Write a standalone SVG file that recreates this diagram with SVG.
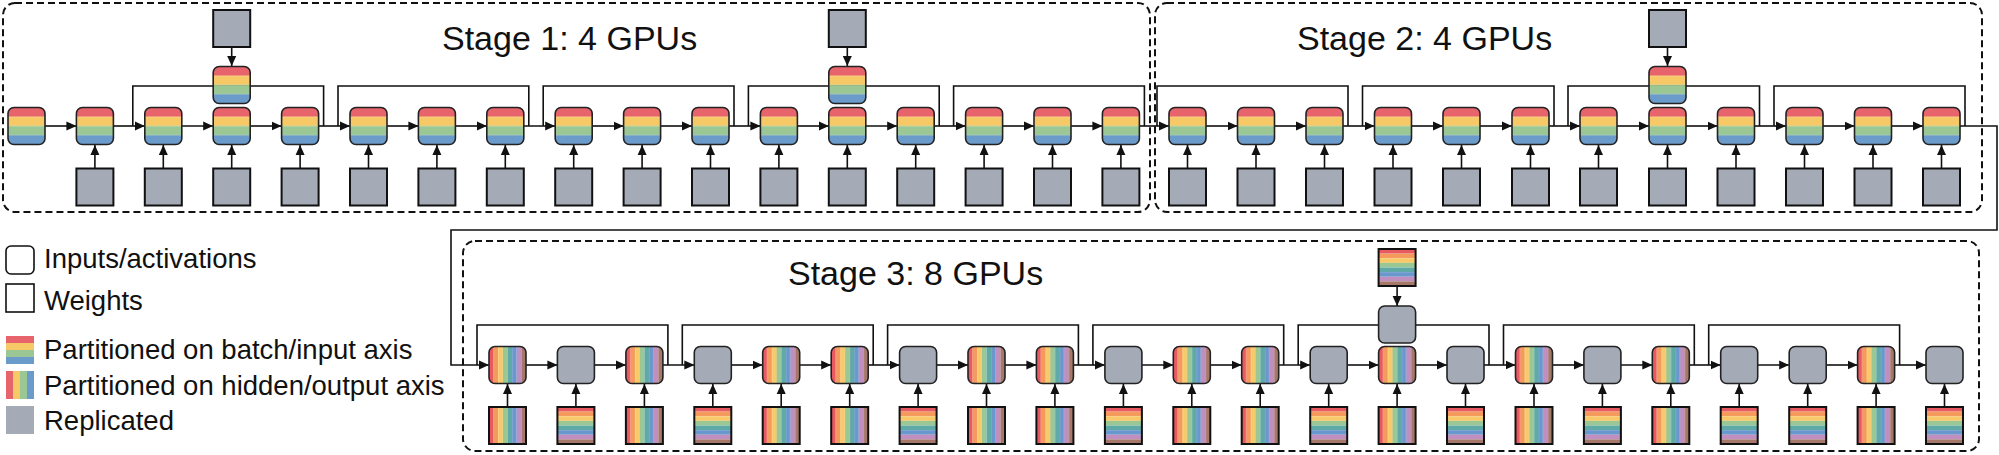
<svg xmlns="http://www.w3.org/2000/svg" width="1999" height="455" viewBox="0 0 1999 455">
<style>
.n{stroke:#222;stroke-width:1.6}
.w{stroke:#111;stroke-width:2}
.h4{fill:url(#h4)}.v8{fill:url(#v8)}.h8{fill:url(#h8)}.g{fill:#a5abb6}
.st{fill:none;stroke:#111;stroke-width:2;stroke-dasharray:7 4}
.c path{fill:none;stroke:#111;stroke-width:1.6}
.a{marker-end:url(#ar)}
text{font-family:"Liberation Sans",Arial,sans-serif;fill:#111}
.t{font-size:34px}.l{font-size:27.5px}
</style>
<defs>
<marker id="ar" viewBox="0 0 10 10" refX="10" refY="5" markerWidth="10" markerHeight="10" markerUnits="userSpaceOnUse" orient="auto"><path d="M0,0.5 L10,5 L0,9.5z" fill="#111"/></marker>
<pattern id="h4" width="1" height="1" patternUnits="objectBoundingBox" patternContentUnits="objectBoundingBox">
<rect width="1" height="0.25" fill="#e8646c"/><rect y="0.25" width="1" height="0.25" fill="#f7c866"/><rect y="0.5" width="1" height="0.25" fill="#9ac794"/><rect y="0.75" width="1" height="0.25" fill="#6b9bcb"/></pattern>
<pattern id="v4" width="1" height="1" patternUnits="objectBoundingBox" patternContentUnits="objectBoundingBox">
<rect width="0.25" height="1" fill="#e8646c"/><rect x="0.25" width="0.25" height="1" fill="#f7c866"/><rect x="0.5" width="0.25" height="1" fill="#9ac794"/><rect x="0.75" width="0.25" height="1" fill="#6b9bcb"/></pattern>
<pattern id="v8" width="1" height="1" patternUnits="objectBoundingBox" patternContentUnits="objectBoundingBox">
<rect width="0.125" height="1" fill="#e85a62"/><rect x="0.125" width="0.125" height="1" fill="#f49a5c"/><rect x="0.25" width="0.125" height="1" fill="#f8c96a"/><rect x="0.375" width="0.125" height="1" fill="#9bc795"/><rect x="0.5" width="0.125" height="1" fill="#5fa9a6"/><rect x="0.625" width="0.125" height="1" fill="#6a98cc"/><rect x="0.75" width="0.125" height="1" fill="#c08fc0"/><rect x="0.875" width="0.125" height="1" fill="#a5786a"/></pattern>
<pattern id="h8" width="1" height="1" patternUnits="objectBoundingBox" patternContentUnits="objectBoundingBox">
<rect width="1" height="0.125" fill="#e85a62"/><rect y="0.125" width="1" height="0.125" fill="#f49a5c"/><rect y="0.25" width="1" height="0.125" fill="#f8c96a"/><rect y="0.375" width="1" height="0.125" fill="#9bc795"/><rect y="0.5" width="1" height="0.125" fill="#5fa9a6"/><rect y="0.625" width="1" height="0.125" fill="#6a98cc"/><rect y="0.75" width="1" height="0.125" fill="#c08fc0"/><rect y="0.875" width="1" height="0.125" fill="#a5786a"/></pattern>
</defs>
<rect width="1999" height="455" fill="#fff"/>

<g id="stages">
<rect class="st" x="3" y="3" width="1147" height="209" rx="12"/>
<rect class="st" x="1155" y="3" width="827" height="209" rx="12"/>
<rect class="st" x="463" y="241" width="1516" height="210" rx="12"/>
<text class="t" x="442" y="50">Stage 1: 4 GPUs</text>
<text class="t" x="1297" y="50">Stage 2: 4 GPUs</text>
<text class="t" x="788" y="285">Stage 3: 8 GPUs</text>
</g>

<g id="legend" class="l">
<rect x="6" y="246" width="28" height="28" rx="5" fill="#fff" stroke="#111" stroke-width="1.6"/>
<text x="44" y="268">Inputs/activations</text>
<rect x="6" y="284" width="28" height="28" fill="#fff" stroke="#111" stroke-width="1.6"/>
<text x="44" y="310">Weights</text>
<rect x="6" y="336" width="28" height="28" fill="url(#h4)"/>
<text x="44" y="359">Partitioned on batch/input axis</text>
<rect x="6" y="371" width="28" height="28" fill="url(#v4)"/>
<text x="44" y="395">Partitioned on hidden/output axis</text>
<rect x="6" y="406" width="28" height="28" fill="#a5abb6"/>
<text x="44" y="430">Replicated</text>
</g>

<g id="connectors" class="c">
<path d="M132.8 126V86H323.6V126"/><path d="M338 126V86H528.8V126"/><path d="M543.2 126V86H734V126"/><path d="M748.4 126V86H939.2V126"/><path d="M953.6 126V86H1144.4V126"/>
<path d="M1157 126V86H1348V126"/><path d="M1362.5 126V86H1554V126"/><path d="M1568 126V86H1759.5V126"/><path d="M1774 126V86H1965V126"/>
<path d="M477 365V325H667.9V365"/><path d="M682.3 365V325H873.2V365"/><path d="M887.6 365V325H1078.4V365"/><path d="M1092.9 365V325H1283.7V365"/><path d="M1298.2 365V325H1489V365"/><path d="M1503.5 365V325H1694.3V365"/><path d="M1708.7 365V325H1899.6V365"/>
<path class="a" d="M45 126H76.4"/><path class="a" d="M113.4 126H144.8"/><path class="a" d="M181.8 126H213.2"/><path class="a" d="M250.2 126H281.6"/><path class="a" d="M318.6 126H350"/><path class="a" d="M387 126H418.4"/><path class="a" d="M455.4 126H486.8"/><path class="a" d="M523.8 126H555.2"/><path class="a" d="M592.2 126H623.6"/><path class="a" d="M660.6 126H692"/><path class="a" d="M729 126H760.4"/><path class="a" d="M797.4 126H828.8"/><path class="a" d="M865.8 126H897.2"/><path class="a" d="M934.2 126H965.6"/><path class="a" d="M1002.6 126H1034"/><path class="a" d="M1071 126H1102.4"/><path class="a" d="M1139.4 126H1169"/>
<path class="a" d="M1206 126H1237.5"/><path class="a" d="M1274.5 126H1306"/><path class="a" d="M1343 126H1374.5"/><path class="a" d="M1411.5 126H1443"/><path class="a" d="M1480 126H1512"/><path class="a" d="M1549 126H1580"/><path class="a" d="M1617 126H1649"/><path class="a" d="M1686 126H1717.5"/><path class="a" d="M1754.5 126H1786"/><path class="a" d="M1823 126H1854.5"/><path class="a" d="M1891.5 126H1923"/>
<path class="a" d="M1960 126H1997V230H451V365H489"/>
<path class="a" d="M526 365H557.4"/><path class="a" d="M594.4 365H625.9"/><path class="a" d="M662.9 365H694.3"/><path class="a" d="M731.3 365H762.7"/><path class="a" d="M799.7 365H831.2"/><path class="a" d="M868.2 365H899.6"/><path class="a" d="M936.6 365H968"/><path class="a" d="M1005 365H1036.4"/><path class="a" d="M1073.4 365H1104.9"/><path class="a" d="M1141.9 365H1173.3"/><path class="a" d="M1210.3 365H1241.7"/><path class="a" d="M1278.7 365H1310.2"/><path class="a" d="M1347.2 365H1378.6"/><path class="a" d="M1415.6 365H1447"/><path class="a" d="M1484 365H1515.5"/><path class="a" d="M1552.5 365H1583.9"/><path class="a" d="M1620.9 365H1652.3"/><path class="a" d="M1689.3 365H1720.7"/><path class="a" d="M1757.7 365H1789.2"/><path class="a" d="M1826.2 365H1857.6"/><path class="a" d="M1894.6 365H1926"/>
<path class="a" d="M94.9 168V145"/><path class="a" d="M163.3 168V145"/><path class="a" d="M231.7 168V145"/><path class="a" d="M300.1 168V145"/><path class="a" d="M368.5 168V145"/><path class="a" d="M436.9 168V145"/><path class="a" d="M505.3 168V145"/><path class="a" d="M573.7 168V145"/><path class="a" d="M642.1 168V145"/><path class="a" d="M710.5 168V145"/><path class="a" d="M778.9 168V145"/><path class="a" d="M847.3 168V145"/><path class="a" d="M915.7 168V145"/><path class="a" d="M984.1 168V145"/><path class="a" d="M1052.5 168V145"/><path class="a" d="M1120.9 168V145"/>
<path class="a" d="M1187.5 168V145"/><path class="a" d="M1256 168V145"/><path class="a" d="M1324.5 168V145"/><path class="a" d="M1393 168V145"/><path class="a" d="M1461.5 168V145"/><path class="a" d="M1530.5 168V145"/><path class="a" d="M1598.5 168V145"/><path class="a" d="M1667.5 168V145"/><path class="a" d="M1736 168V145"/><path class="a" d="M1804.5 168V145"/><path class="a" d="M1873 168V145"/><path class="a" d="M1941.5 168V145"/>
<path class="a" d="M231.7 47V66"/><path class="a" d="M847.3 47V66"/><path class="a" d="M1667.5 47V66"/>
<path class="a" d="M507.5 407V384"/><path class="a" d="M575.9 407V384"/><path class="a" d="M644.4 407V384"/><path class="a" d="M712.8 407V384"/><path class="a" d="M781.2 407V384"/><path class="a" d="M849.7 407V384"/><path class="a" d="M918.1 407V384"/><path class="a" d="M986.5 407V384"/><path class="a" d="M1054.9 407V384"/><path class="a" d="M1123.4 407V384"/><path class="a" d="M1191.8 407V384"/><path class="a" d="M1260.2 407V384"/><path class="a" d="M1328.7 407V384"/><path class="a" d="M1397.1 407V384"/><path class="a" d="M1465.5 407V384"/><path class="a" d="M1534 407V384"/><path class="a" d="M1602.4 407V384"/><path class="a" d="M1670.8 407V384"/><path class="a" d="M1739.2 407V384"/><path class="a" d="M1807.7 407V384"/><path class="a" d="M1876.1 407V384"/><path class="a" d="M1944.5 407V384"/>
<path class="a" d="M1397.1 286V306"/>
</g>

<g id="stage1">
<g id="s1n0"><rect class="n h4" x="8" y="107.5" width="37" height="37" rx="6"/></g>
<g id="s1n1"><rect class="n h4" x="76.4" y="107.5" width="37" height="37" rx="6"/><rect class="w g" x="76.4" y="168.5" width="37" height="37"/></g>
<g id="s1n2"><rect class="n h4" x="144.8" y="107.5" width="37" height="37" rx="6"/><rect class="w g" x="144.8" y="168.5" width="37" height="37"/></g>
<g id="s1n3"><rect class="n h4" x="213.2" y="107.5" width="37" height="37" rx="6"/><rect class="w g" x="213.2" y="168.5" width="37" height="37"/><rect class="n h4" x="213.2" y="66.5" width="37" height="37" rx="6"/><rect class="w g" x="213.2" y="10" width="37" height="37"/></g>
<g id="s1n4"><rect class="n h4" x="281.6" y="107.5" width="37" height="37" rx="6"/><rect class="w g" x="281.6" y="168.5" width="37" height="37"/></g>
<g id="s1n5"><rect class="n h4" x="350" y="107.5" width="37" height="37" rx="6"/><rect class="w g" x="350" y="168.5" width="37" height="37"/></g>
<g id="s1n6"><rect class="n h4" x="418.4" y="107.5" width="37" height="37" rx="6"/><rect class="w g" x="418.4" y="168.5" width="37" height="37"/></g>
<g id="s1n7"><rect class="n h4" x="486.8" y="107.5" width="37" height="37" rx="6"/><rect class="w g" x="486.8" y="168.5" width="37" height="37"/></g>
<g id="s1n8"><rect class="n h4" x="555.2" y="107.5" width="37" height="37" rx="6"/><rect class="w g" x="555.2" y="168.5" width="37" height="37"/></g>
<g id="s1n9"><rect class="n h4" x="623.6" y="107.5" width="37" height="37" rx="6"/><rect class="w g" x="623.6" y="168.5" width="37" height="37"/></g>
<g id="s1n10"><rect class="n h4" x="692" y="107.5" width="37" height="37" rx="6"/><rect class="w g" x="692" y="168.5" width="37" height="37"/></g>
<g id="s1n11"><rect class="n h4" x="760.4" y="107.5" width="37" height="37" rx="6"/><rect class="w g" x="760.4" y="168.5" width="37" height="37"/></g>
<g id="s1n12"><rect class="n h4" x="828.8" y="107.5" width="37" height="37" rx="6"/><rect class="w g" x="828.8" y="168.5" width="37" height="37"/><rect class="n h4" x="828.8" y="66.5" width="37" height="37" rx="6"/><rect class="w g" x="828.8" y="10" width="37" height="37"/></g>
<g id="s1n13"><rect class="n h4" x="897.2" y="107.5" width="37" height="37" rx="6"/><rect class="w g" x="897.2" y="168.5" width="37" height="37"/></g>
<g id="s1n14"><rect class="n h4" x="965.6" y="107.5" width="37" height="37" rx="6"/><rect class="w g" x="965.6" y="168.5" width="37" height="37"/></g>
<g id="s1n15"><rect class="n h4" x="1034" y="107.5" width="37" height="37" rx="6"/><rect class="w g" x="1034" y="168.5" width="37" height="37"/></g>
<g id="s1n16"><rect class="n h4" x="1102.4" y="107.5" width="37" height="37" rx="6"/><rect class="w g" x="1102.4" y="168.5" width="37" height="37"/></g>
</g>

<g id="stage2">
<g id="s2n1"><rect class="n h4" x="1169" y="107.5" width="37" height="37" rx="6"/><rect class="w g" x="1169" y="168.5" width="37" height="37"/></g>
<g id="s2n2"><rect class="n h4" x="1237.5" y="107.5" width="37" height="37" rx="6"/><rect class="w g" x="1237.5" y="168.5" width="37" height="37"/></g>
<g id="s2n3"><rect class="n h4" x="1306" y="107.5" width="37" height="37" rx="6"/><rect class="w g" x="1306" y="168.5" width="37" height="37"/></g>
<g id="s2n4"><rect class="n h4" x="1374.5" y="107.5" width="37" height="37" rx="6"/><rect class="w g" x="1374.5" y="168.5" width="37" height="37"/></g>
<g id="s2n5"><rect class="n h4" x="1443" y="107.5" width="37" height="37" rx="6"/><rect class="w g" x="1443" y="168.5" width="37" height="37"/></g>
<g id="s2n6"><rect class="n h4" x="1512" y="107.5" width="37" height="37" rx="6"/><rect class="w g" x="1512" y="168.5" width="37" height="37"/></g>
<g id="s2n7"><rect class="n h4" x="1580" y="107.5" width="37" height="37" rx="6"/><rect class="w g" x="1580" y="168.5" width="37" height="37"/></g>
<g id="s2n8"><rect class="n h4" x="1649" y="107.5" width="37" height="37" rx="6"/><rect class="w g" x="1649" y="168.5" width="37" height="37"/><rect class="n h4" x="1649" y="66.5" width="37" height="37" rx="6"/><rect class="w g" x="1649" y="10" width="37" height="37"/></g>
<g id="s2n9"><rect class="n h4" x="1717.5" y="107.5" width="37" height="37" rx="6"/><rect class="w g" x="1717.5" y="168.5" width="37" height="37"/></g>
<g id="s2n10"><rect class="n h4" x="1786" y="107.5" width="37" height="37" rx="6"/><rect class="w g" x="1786" y="168.5" width="37" height="37"/></g>
<g id="s2n11"><rect class="n h4" x="1854.5" y="107.5" width="37" height="37" rx="6"/><rect class="w g" x="1854.5" y="168.5" width="37" height="37"/></g>
<g id="s2n12"><rect class="n h4" x="1923" y="107.5" width="37" height="37" rx="6"/><rect class="w g" x="1923" y="168.5" width="37" height="37"/></g>
</g>

<g id="stage3">
<g id="s3n1"><rect class="n v8" x="489" y="346.5" width="37" height="37" rx="6"/><rect class="w v8" x="489" y="407" width="37" height="37"/></g>
<g id="s3n2"><rect class="n g" x="557.4" y="346.5" width="37" height="37" rx="6"/><rect class="w h8" x="557.4" y="407" width="37" height="37"/></g>
<g id="s3n3"><rect class="n v8" x="625.9" y="346.5" width="37" height="37" rx="6"/><rect class="w v8" x="625.9" y="407" width="37" height="37"/></g>
<g id="s3n4"><rect class="n g" x="694.3" y="346.5" width="37" height="37" rx="6"/><rect class="w h8" x="694.3" y="407" width="37" height="37"/></g>
<g id="s3n5"><rect class="n v8" x="762.7" y="346.5" width="37" height="37" rx="6"/><rect class="w v8" x="762.7" y="407" width="37" height="37"/></g>
<g id="s3n6"><rect class="n v8" x="831.2" y="346.5" width="37" height="37" rx="6"/><rect class="w v8" x="831.2" y="407" width="37" height="37"/></g>
<g id="s3n7"><rect class="n g" x="899.6" y="346.5" width="37" height="37" rx="6"/><rect class="w h8" x="899.6" y="407" width="37" height="37"/></g>
<g id="s3n8"><rect class="n v8" x="968" y="346.5" width="37" height="37" rx="6"/><rect class="w v8" x="968" y="407" width="37" height="37"/></g>
<g id="s3n9"><rect class="n v8" x="1036.4" y="346.5" width="37" height="37" rx="6"/><rect class="w v8" x="1036.4" y="407" width="37" height="37"/></g>
<g id="s3n10"><rect class="n g" x="1104.9" y="346.5" width="37" height="37" rx="6"/><rect class="w h8" x="1104.9" y="407" width="37" height="37"/></g>
<g id="s3n11"><rect class="n v8" x="1173.3" y="346.5" width="37" height="37" rx="6"/><rect class="w v8" x="1173.3" y="407" width="37" height="37"/></g>
<g id="s3n12"><rect class="n v8" x="1241.7" y="346.5" width="37" height="37" rx="6"/><rect class="w v8" x="1241.7" y="407" width="37" height="37"/></g>
<g id="s3n13"><rect class="n g" x="1310.2" y="346.5" width="37" height="37" rx="6"/><rect class="w h8" x="1310.2" y="407" width="37" height="37"/></g>
<g id="s3n14"><rect class="n v8" x="1378.6" y="346.5" width="37" height="37" rx="6"/><rect class="w v8" x="1378.6" y="407" width="37" height="37"/><rect class="n g" x="1378.6" y="306" width="37" height="37" rx="6"/><rect class="w h8" x="1378.6" y="249" width="37" height="37"/></g>
<g id="s3n15"><rect class="n g" x="1447" y="346.5" width="37" height="37" rx="6"/><rect class="w h8" x="1447" y="407" width="37" height="37"/></g>
<g id="s3n16"><rect class="n v8" x="1515.5" y="346.5" width="37" height="37" rx="6"/><rect class="w v8" x="1515.5" y="407" width="37" height="37"/></g>
<g id="s3n17"><rect class="n g" x="1583.9" y="346.5" width="37" height="37" rx="6"/><rect class="w h8" x="1583.9" y="407" width="37" height="37"/></g>
<g id="s3n18"><rect class="n v8" x="1652.3" y="346.5" width="37" height="37" rx="6"/><rect class="w v8" x="1652.3" y="407" width="37" height="37"/></g>
<g id="s3n19"><rect class="n g" x="1720.7" y="346.5" width="37" height="37" rx="6"/><rect class="w h8" x="1720.7" y="407" width="37" height="37"/></g>
<g id="s3n20"><rect class="n g" x="1789.2" y="346.5" width="37" height="37" rx="6"/><rect class="w h8" x="1789.2" y="407" width="37" height="37"/></g>
<g id="s3n21"><rect class="n v8" x="1857.6" y="346.5" width="37" height="37" rx="6"/><rect class="w v8" x="1857.6" y="407" width="37" height="37"/></g>
<g id="s3n22"><rect class="n g" x="1926" y="346.5" width="37" height="37" rx="6"/><rect class="w h8" x="1926" y="407" width="37" height="37"/></g>
</g>
</svg>
